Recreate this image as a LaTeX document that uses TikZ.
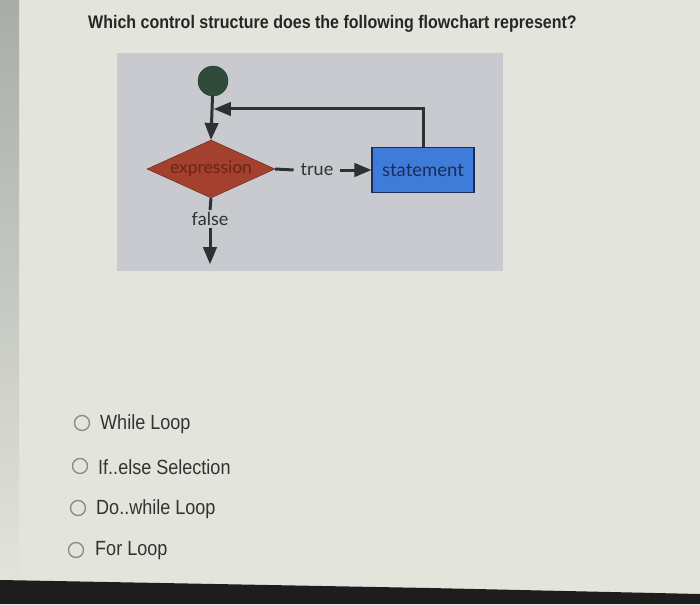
\documentclass[tikz,border=0pt]{standalone}
\usepackage{fontspec}
\setmainfont{Liberation Sans}
\newfontfamily\chartfont{Lato}
\newfontfamily\narrowsans[FakeStretch=0.88]{Liberation Sans}
\usepackage{xcolor}
\usetikzlibrary{shapes.geometric,
	arrows,
	positioning}

\definecolor{screenbg}{HTML}{E3E5DC}
\definecolor{stripgray}{HTML}{A9ACA9}
\definecolor{panelgray}{HTML}{C8CAD0}
\definecolor{startgreen}{HTML}{2F4C3A}
\definecolor{exprred}{HTML}{A3402E}
\definecolor{exprtext}{HTML}{6B2418}
\definecolor{stmtblue}{HTML}{3F7CD9}
\definecolor{stmttext}{HTML}{1C2C58}
\definecolor{linegray}{HTML}{2E3133}
\definecolor{bezel}{HTML}{1E1C1C}

\begin{document}
\begin{tikzpicture}[x=1pt, y=-1pt,
	flow/.style={draw=linegray, line width=3pt},
	label/.style={font=\chartfont\fontsize{18}{20}\selectfont, text=linegray, inner xsep=7pt, inner ysep=4pt},
	radio/.style={circle, draw=gray!90, line width=1.4pt, minimum size=15pt, inner sep=0pt},
	answer/.style={anchor=west, font=\narrowsans\fontsize{20.5}{22}\selectfont, text=black!80, inner sep=0pt}]
	\useasboundingbox (0,0) rectangle (700,604);
	% screen
	\fill[screenbg] (0,0) rectangle (700,604);
	\shade[top color=stripgray, bottom color=screenbg] (0,0) rectangle (19,590);
	\fill[bezel] (0,580) -- (430,588) -- (700,594) -- (700,604) -- (0,604) -- cycle;
	% question
	\node[anchor=base west, inner sep=0pt, font=\narrowsans\bfseries\fontsize{18.2}{20}\selectfont, text=black!85] (question) at (88,29) {Which control structure does the following flowchart represent?};
	% flowchart
	\fill[panelgray] (117,53) rectangle (503,271);
	\node[circle, fill=startgreen, draw=startgreen!70!black, minimum size=30pt, inner sep=0pt] (start) at (213,81) {};
	\node[diamond, fill=exprred, draw=exprred!60!black, inner sep=0pt, aspect=2.2, minimum width=128pt, minimum height=58pt, font=\chartfont\fontsize{17.5}{20}\selectfont, text=exprtext] (expr) at (211,169) {expression};
	\node[rectangle, fill=stmtblue, draw=stmttext, line width=1.4pt, minimum width=102pt, minimum height=45pt, font=\chartfont\fontsize{18.5}{20}\selectfont, text=stmttext] (stmt) at (423,170) {statement};
	\node[label] (truelbl) at (317,170) {true};
	\node[label, inner ysep=2pt] (falselbl) at (210,219) {false};
	\coordinate (loop) at (214,109);
	\coordinate (exit) at (210,264);
	\draw[flow, -triangle 45] (start) -- (expr.north);
	\draw[flow, -triangle 45] (stmt.north) |- (loop);
	\draw[flow] (expr.east) -- (truelbl.west);
	\draw[flow, -triangle 45] (truelbl.east) -- (stmt.west);
	\draw[flow] (expr.south) -- (falselbl.north);
	\draw[flow, -triangle 45] (falselbl.south) -- (exit);
	% choices
	\node[radio] (opt1) at (82,423) {};
	\node[radio] (opt2) at (80,466) {};
	\node[radio] (opt3) at (78,508) {};
	\node[radio] (opt4) at (76,550) {};
	\node[answer] (ans1) at (100,424) {While Loop};
	\node[answer] (ans2) at (98,467) {If..else Selection};
	\node[answer] (ans3) at (96,509) {Do..while Loop};
	\node[answer] (ans4) at (95,551) {For Loop};
\end{tikzpicture}
\end{document}
